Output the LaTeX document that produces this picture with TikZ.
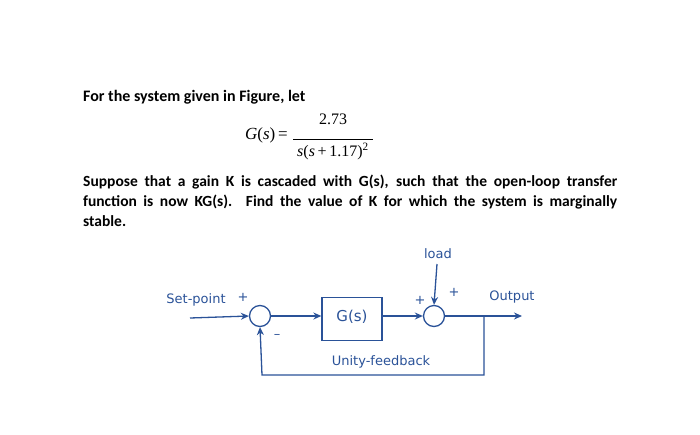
\documentclass[tikz,border=0pt]{standalone}
\usepackage{fontspec}
\setmainfont{Carlito}
\newfontfamily\serif{Liberation Serif}
\newfontfamily\handf{DejaVu Sans}
\usetikzlibrary{arrows.meta}
\definecolor{ink}{HTML}{2A5298}
\tikzset{
  wire/.style={ink, line width=1.3pt},
  arr/.style={wire, -{Stealth[length=8pt,width=7pt]}},
  sumj/.style={circle, draw=ink, line width=1.3pt, minimum size=21pt, inner sep=0pt},
  blk/.style={draw=ink, line width=1.3pt, minimum width=60pt, minimum height=43pt, inner sep=0pt},
  lbl/.style={ink, font=\handf\fontsize{13}{14}\selectfont, inner sep=0pt},
}
\begin{document}
\begin{tikzpicture}[x=1pt,y=-1pt]
\useasboundingbox (0,0) rectangle (700,434);
\node[anchor=west, font=\bfseries\fontsize{16}{18}\selectfont, inner sep=0pt] (t1) at (83,97) {For the system given in Figure, let};
\node[anchor=east, font=\serif\fontsize{17}{19}\selectfont, inner sep=0pt] (gs) at (288,135) {\textit{G}(\textit{s})\,=};
\node[font=\serif\fontsize{16}{18}\selectfont, inner sep=1pt] (fr) at (333,137) {\begin{tabular}{@{}c@{}}2.73\\[-3pt]\rule{80pt}{0.6pt}\\[-2pt]\textit{s}(\textit{s}\,+\,1.17)\textsuperscript{2}\end{tabular}};
\node[anchor=north west, font=\bfseries\fontsize{15.5}{20}\selectfont, inner sep=0pt, text width=534pt, align=justify] (p) at (83,175) {Suppose that a gain K is cascaded with G(s), such that the open-loop transfer\linebreak function is now KG(s). Find the value of K for which the system is marginally\linebreak stable.};
\node[sumj] (s1) at (260,316) {};
\node[blk] (g) at (352,319) {};
\node[lbl, font=\handf\fontsize{15}{16}\selectfont] (gl) at (352,317) {G(s)};
\node[sumj] (s2) at (434,316) {};
\coordinate (in) at (190,318);
\coordinate (ld) at (437,264);
\coordinate (out) at (522,316);
\coordinate (br) at (484,316);
\coordinate (b1) at (484,375);
\coordinate (b2) at (262,375);
\draw[arr] (in) -- (s1.west);
\draw[arr] (s1.east) -- (g.west |- s1.east);
\draw[arr] (g.east |- s2.west) -- (s2.west);
\draw[arr] (ld) -- (s2.north);
\draw[arr] (s2.east) -- (out);
\draw[arr] (br) -- (b1) -- (b2) -- (s1.south);
\node[lbl] (sp) at (196,300) {Set-point};
\node[lbl] (p1) at (243,297) {+};
\node[lbl] (m1) at (277,336) {–};
\node[lbl] (p2) at (420,300) {+};
\node[lbl] (p3) at (454,292) {+};
\node[lbl] (lo) at (438,254) {load};
\node[lbl] (op) at (512,297) {Output};
\node[lbl] (uf) at (381,362) {Unity-feedback};
\end{tikzpicture}
\end{document}
